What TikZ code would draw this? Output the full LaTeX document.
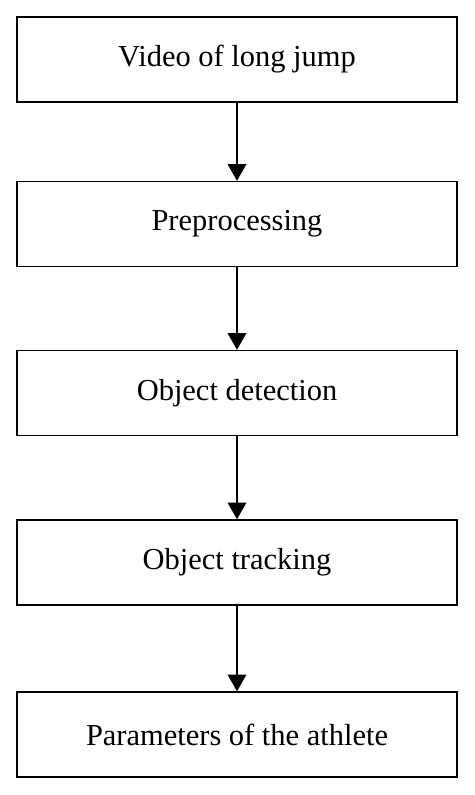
\documentclass[tikz,border=0pt]{standalone}
\usepackage{fontspec}
\setmainfont{Liberation Serif}
\usetikzlibrary{arrows.meta}
\begin{document}
\begin{tikzpicture}[x=0.03cm,y=-0.03cm,
    stagebox/.style={draw,line width=1.2pt,minimum width=13.2cm,minimum height=2.55cm,
      inner sep=0pt,font=\fontsize{26}{30}\selectfont},
    flowarrow/.style={line width=1.2pt,-{Triangle[length=0.5cm,width=0.56cm]}}]
      \useasboundingbox (0,0) rectangle (474,795);
      \draw
        (237,59.5) node[stagebox] (video){Video of long jump}
        (237,224) node[stagebox] (prep){Preprocessing}
        (237,393) node[stagebox] (detect){Object detection}
        (237,562.5) node[stagebox] (track){Object tracking}
        (237,734.5) node[stagebox] (params){Parameters of the athlete};
      \begin{scope}[flowarrow]
        \draw (video) to (prep);
        \draw (prep) to (detect);
        \draw (detect) to (track);
        \draw (track) to (params);
      \end{scope}
    \end{tikzpicture}
\end{document}
